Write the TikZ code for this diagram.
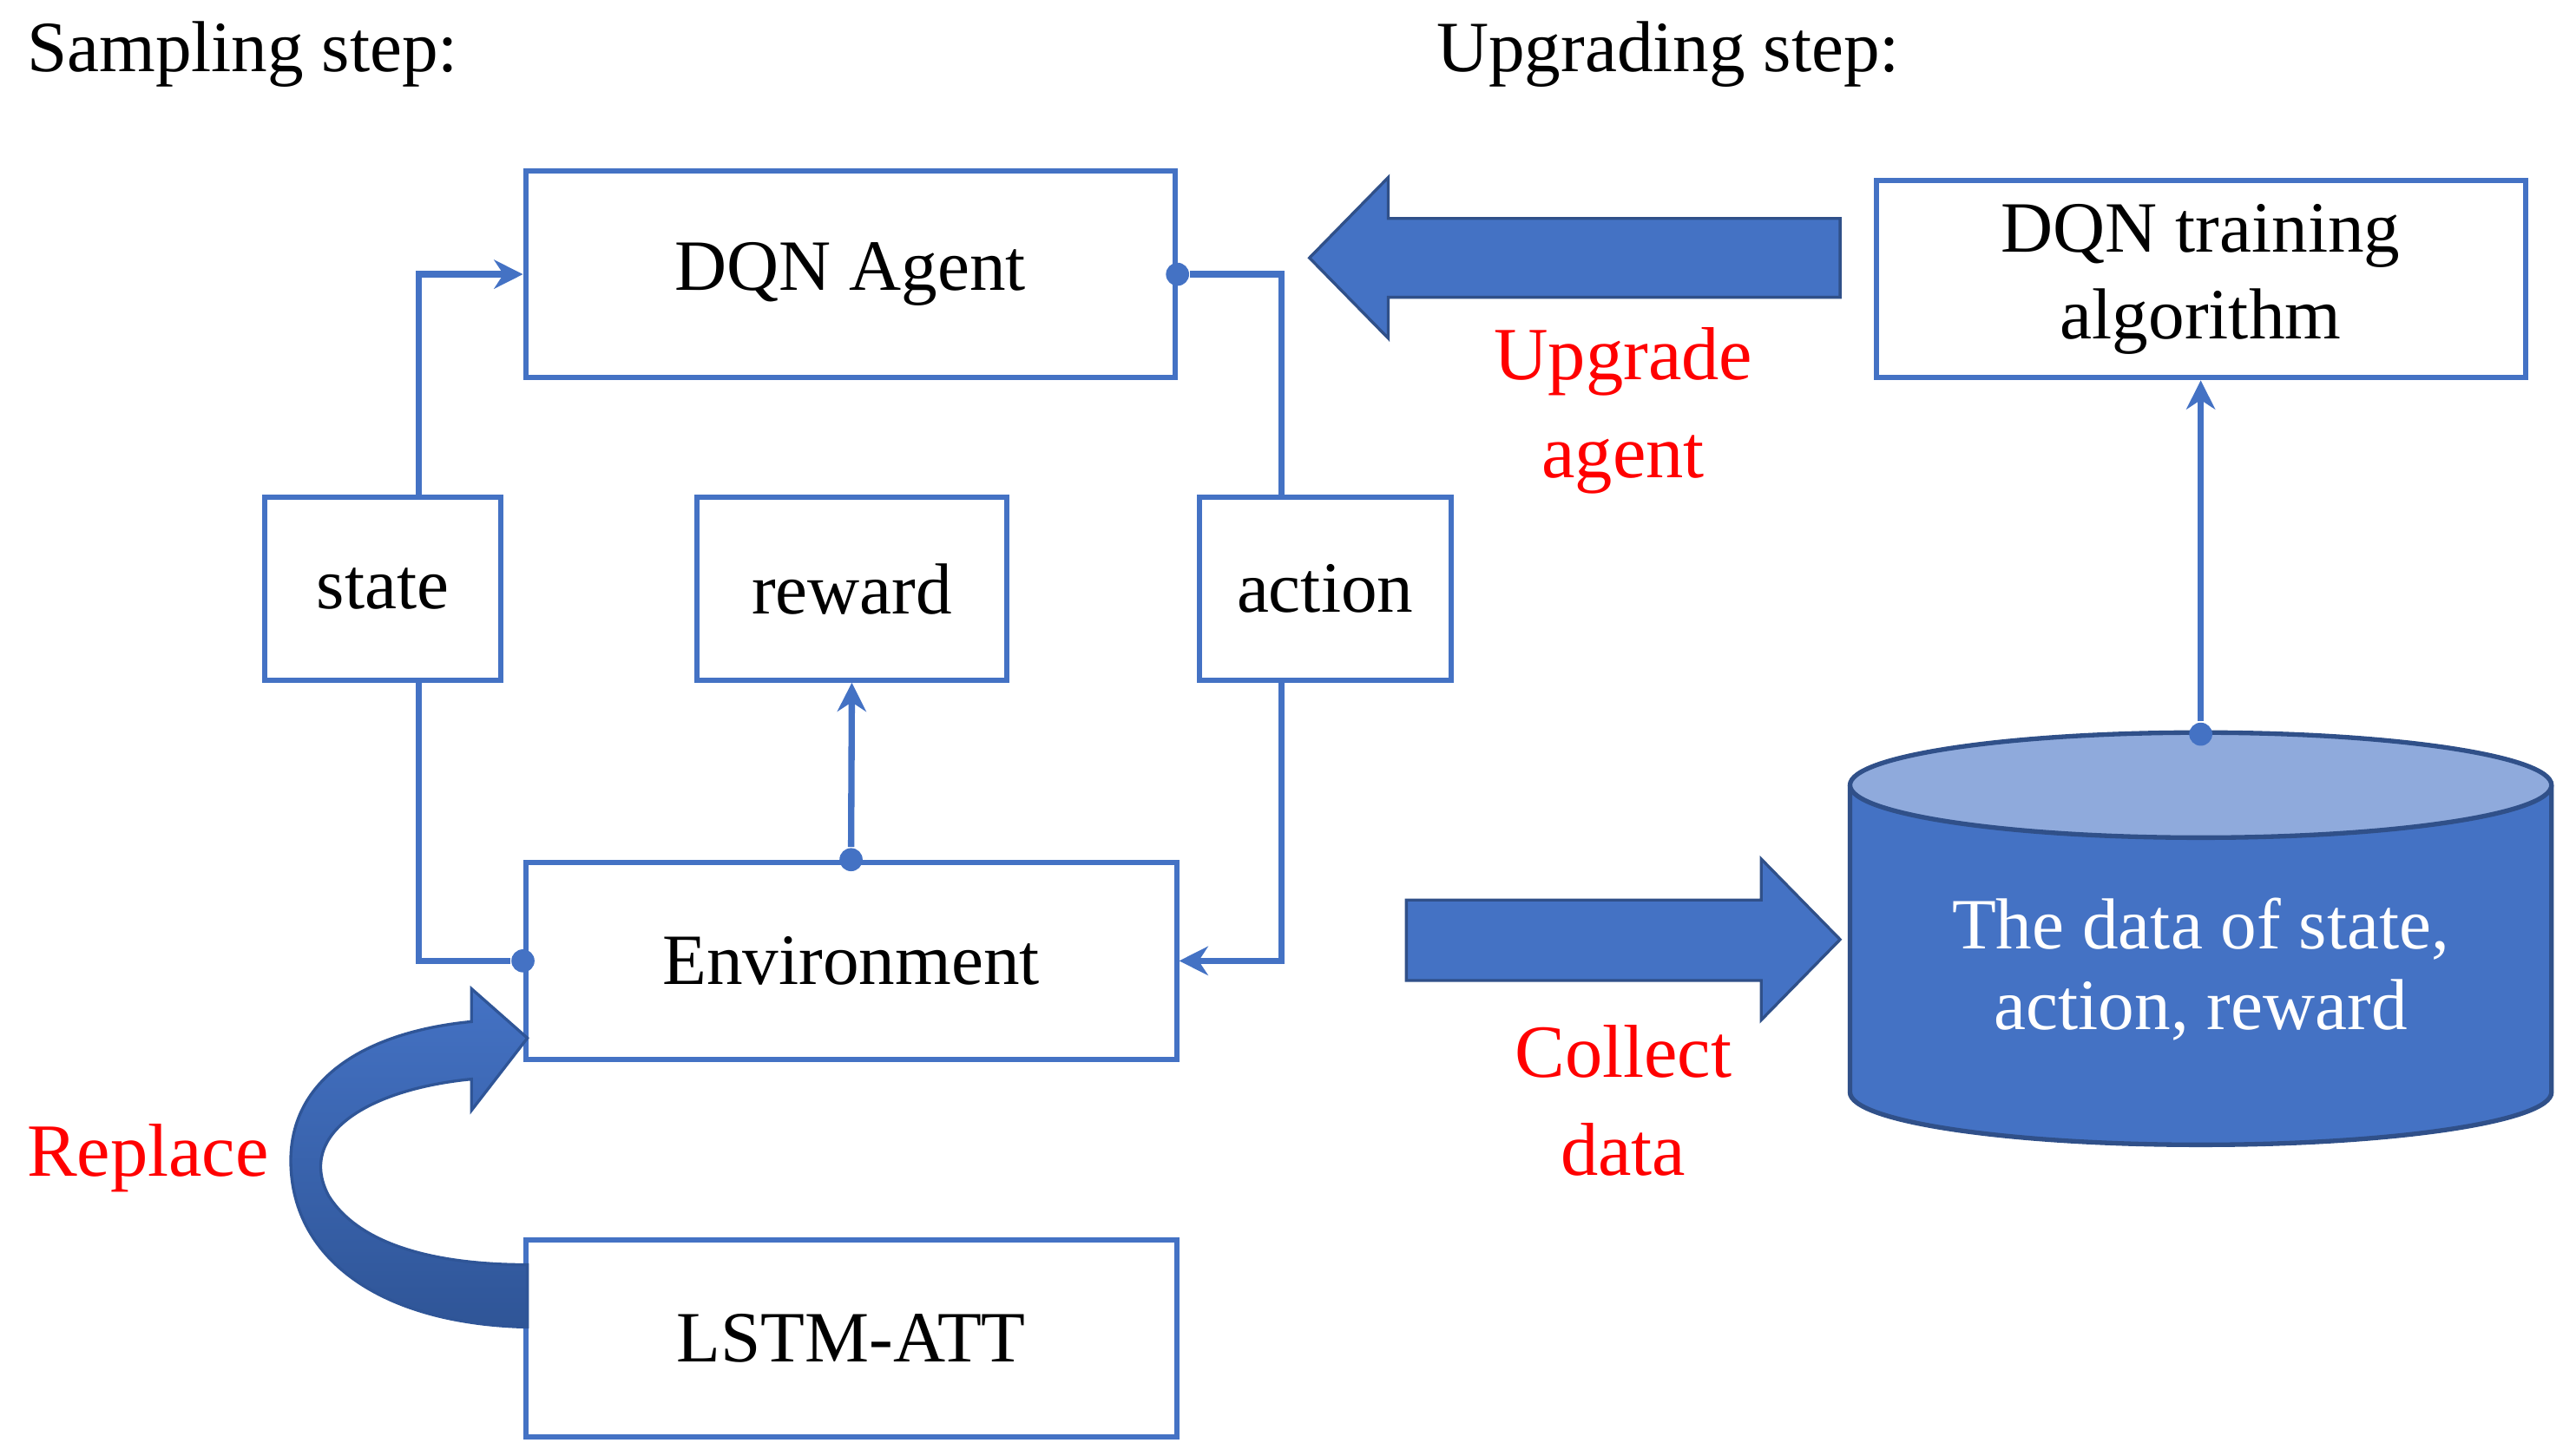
\documentclass[tikz,border=0pt]{standalone}
\usepackage{fontspec}
\setmainfont{Liberation Serif}
\usetikzlibrary{arrows.meta,shapes.geometric}
\definecolor{bl}{HTML}{4472C4}
\definecolor{bllt}{HTML}{8FAADC}
\definecolor{bldk}{HTML}{2F5597}
\begin{document}
\begin{tikzpicture}[x=0.01cm,y=-0.01cm,
  box/.style={draw=bl,line width=0.9pt,fill=white,font=\fontsize{12.5}{15}\selectfont,align=center,inner sep=0},
  ln/.style={draw=bl,line width=1.1pt},
  arr/.style={ln,-{Stealth[length=5pt,width=5pt]}},
  dot/.style={circle,fill=bl,inner sep=0,minimum size=4pt},
  red/.style={text=red,font=\fontsize{13}{17}\selectfont,align=center},
  hdr/.style={font=\fontsize{12.5}{15}\selectfont,anchor=west}]
\useasboundingbox (0,0) rectangle (1560,886);
\node[hdr] (h1) at (4,33) {Sampling step:};
\node[hdr] (h2) at (862,33) {Upgrading step:};
\node[box,minimum width=3.95cm,minimum height=1.26cm] (agent) at (517.5,167) {DQN Agent};
\node[box,minimum width=3.95cm,minimum height=1.20cm] (train) at (1339.5,170) {DQN training\\algorithm};
\node[box,minimum width=1.44cm,minimum height=1.11cm] (state) at (233,358.5) {state};
\node[box,minimum width=1.89cm,minimum height=1.11cm] (reward) at (518.5,358.5) {reward};
\node[box,minimum width=1.53cm,minimum height=1.11cm] (action) at (806.5,358.5) {action};
\node[box,minimum width=3.96cm,minimum height=1.20cm] (env) at (518,585) {Environment};
\node[box,minimum width=3.96cm,minimum height=1.20cm] (lstm) at (518,815) {LSTM-ATT};
% cylinder
\fill[bl] (1126,478) -- (1126,665) arc[start angle=180,end angle=0,x radius=213.5,y radius=32] -- (1553,478) -- cycle;
\draw[bl!70!black,line width=0.8pt] (1126,478) -- (1126,665) arc[start angle=180,end angle=0,x radius=213.5,y radius=32] -- (1553,478);
\draw[bl!70!black,line width=0.8pt,fill=bllt] (1339.5,478) ellipse[x radius=213.5,y radius=32];
\node[font=\fontsize{12.5}{15}\selectfont,text=white,align=center] (db) at (1339.5,590) {The data of state,\\[-1pt]action, reward};
\coordinate (dbtop) at (1339.5,447);
% connectors
\node[dot] (d1) at (env.west) {};
\draw[ln] (d1) -| (state.south -| 255,0);
\draw[arr] (state.north -| 255,0) |- (agent.west);
\node[dot] (d2) at (agent.east) {};
\draw[ln] (d2) -| (action.north -| 780,0);
\draw[arr] (action.south -| 780,0) |- (env.east);
\node[dot] (d3) at (env.north) {};
\draw[arr] (d3) -- (reward.south);
\node[dot] (d4) at (dbtop) {};
\draw[arr] (d4) -- (train.south);
% big arrows
\fill[bl] (1120,133) -- (845,133) -- (845,108) -- (797,157) -- (845,206) -- (845,181) -- (1120,181) -- cycle;
\draw[bl!70!black,line width=0.5pt] (1120,133) -- (845,133) -- (845,108) -- (797,157) -- (845,206) -- (845,181) -- (1120,181) -- cycle;
\fill[bl] (856,548) -- (1072,548) -- (1072,523) -- (1120,572) -- (1072,621) -- (1072,597) -- (856,597) -- cycle;
\draw[bl!70!black,line width=0.5pt] (856,548) -- (1072,548) -- (1072,523) -- (1120,572) -- (1072,621) -- (1072,597) -- (856,597) -- cycle;
% replace curved arrow
\shade[top color=bl,bottom color=bldk,draw=bldk,line width=0.5pt]
 (321,808) .. controls (230,806) and (176,765) .. (177,705)
 .. controls (178,655) and (225,628) .. (287,622) -- (287,602) -- (321,632) -- (287,676) -- (287,657)
 .. controls (225,663) and (180,690) .. (200,728)
 .. controls (220,760) and (270,770) .. (321,770) -- cycle;
\node[red] (l1) at (988,250) {Upgrade\\agent};
\node[red] (l2) at (988,670) {Collect\\data};
\node[red] (l3) at (90,705) {Replace};
\end{tikzpicture}
\end{document}
